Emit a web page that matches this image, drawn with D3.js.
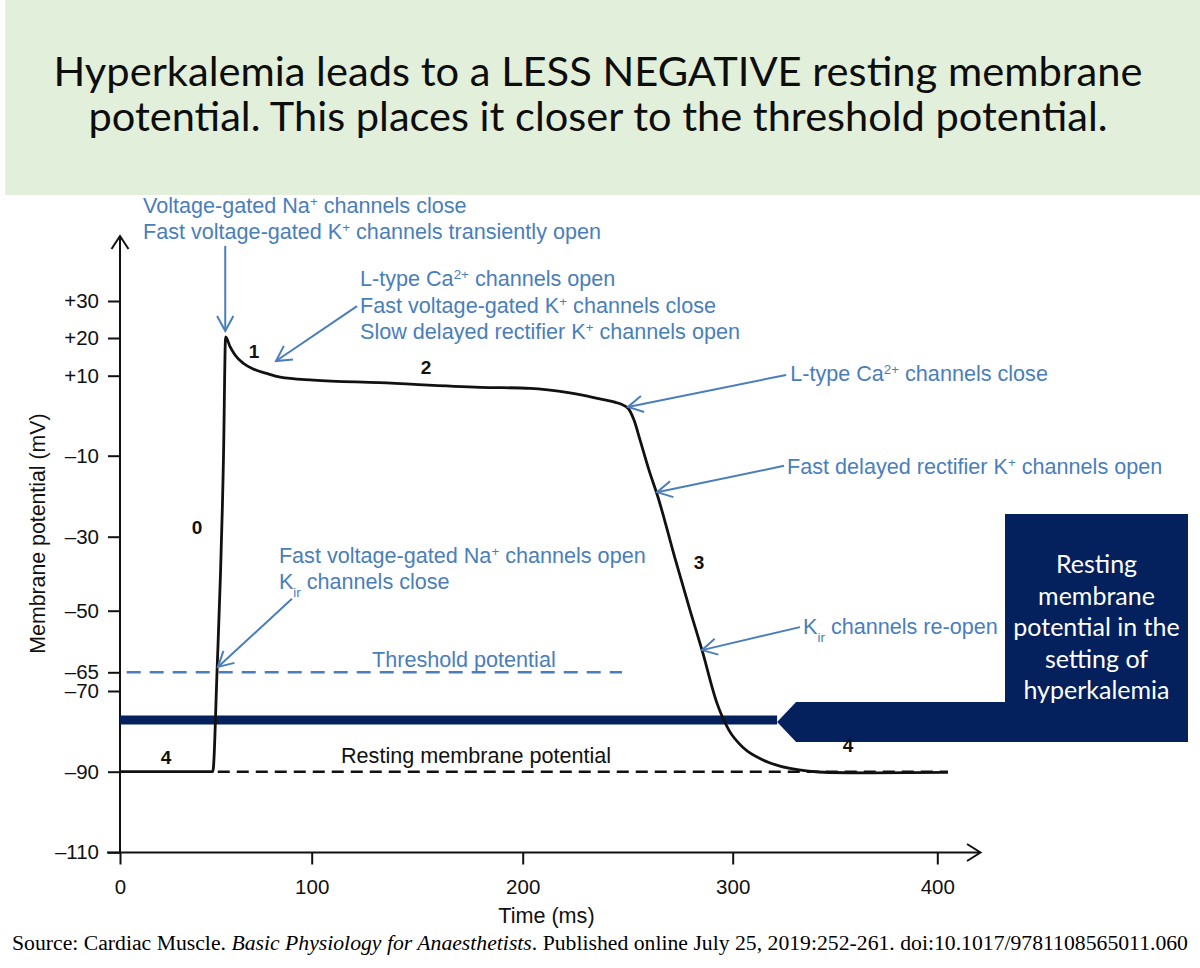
<!DOCTYPE html>
<html><head><meta charset="utf-8">
<script src="https://cdn.jsdelivr.net/npm/d3@7"></script>
<style>
html,body{margin:0;padding:0;background:#fff;}
svg{display:block;}
</style></head><body>
<svg id="c" width="1200" height="968"></svg>
<script>
// ---------------- data ----------------
const titleLines = ["Hyperkalemia leads to a LESS NEGATIVE resting membrane",
                    "potential. This places it closer to the threshold potential."];
const timeTicks = [0, 100, 200, 300, 400];
const voltageTicks = [30, 20, 10, -10, -30, -50, -65, -70, -90, -110];
const voltageTickLabels = ["+30", "+20", "+10", "\u201310", "\u201330", "\u201350", "\u201365", "\u201370", "\u201390", "\u2013110"];
const xTitle = "Time (ms)";
const yTitle = "Membrane potential (mV)";

// cardiac action potential trace
const apTime    = [0, 48.4, 50.6, 54.0, 55.1, 57.4, 60.0, 64.3, 69.5, 76.5, 83.5, 100.8, 131.9, 179.8, 203.5, 222.5, 236.8, 243.9, 250.1, 253.0, 255.9, 260.1, 264.4, 272.5, 279.9, 285.4, 292.5, 298.2, 305.5, 314.8, 328.0, 347.1, 367.1, 405.2];
const apVoltage = [-90, -90, -65, -10, 20.3, 17.7, 15.5, 13.3, 11.8, 10.6, 9.65, 8.9, 8.25, 7.1, 6.85, 5.7, 4.2, 3.4, 1.9, -1.1, -6.1, -13.5, -20.2, -35.8, -50.3, -59.6, -73.0, -79.7, -84.2, -87.1, -89.2, -90.2, -90.3, -90.15];

const thresholdPotential = -65;
const thresholdSpan = [3.5, 247.3];
const restingPotential = -90;
const restingSpan = [51, 405.2];
const hyperkalemiaPotential = -77.2;
const hyperkalemiaSpan = [0, 321.7];

const phaseLabels  = ["0", "1", "2", "3", "4", "4"];
const phaseTime    = [40.2, 69.9, 154.2, 284.0, 24.0, 356.4];
const phaseVoltage = [-27.6, 16.6, 12.3, -36.8, -86.4, -83.4];

// annotations (anchor in data units)
const annotText = [
  ["Voltage-gated Na^{+} channels close", "Fast voltage-gated K^{+} channels transiently open"],
  ["L-type Ca^{2+} channels open", "Fast voltage-gated K^{+} channels close", "Slow delayed rectifier K^{+} channels open"],
  ["L-type Ca^{2+} channels close"],
  ["Fast delayed rectifier K^{+} channels open"],
  ["K_{ir} channels re-open"],
  ["Fast voltage-gated Na^{+} channels open", "K_{ir} channels close"],
  ["Threshold potential"]
];
const annotTime    = [12.0, 122.9, 328.1, 326.6, 334.4, 82.9, 128.6];
const annotVoltage = [53.8, 34.05, 8.7, -14.5, -55.7, -37.1, -63.7];
// arrows: tail -> tip
const arrowTailTime    = [54.9, 121.5, 326.1, 325.1, 332.9, 89.7];
const arrowTailVoltage = [44.9, 28.6, 10.2, -12.5, -54.0, -46.8];
const arrowTipTime     = [54.9, 81.4, 250.1, 264.0, 285.4, 51.1];
const arrowTipVoltage  = [21.9, 13.9, 2.2, -19.0, -59.6, -63.7];

const restingLabel = "Resting membrane potential";
const restingLabelTime = 113.9, restingLabelVoltage = -87.8;

const calloutLines = ["Resting", "membrane", "potential in the", "setting of", "hyperkalemia"];

const sourceParts = [
  ["Source: Cardiac Muscle. ", false],
  ["Basic Physiology for Anaesthetists", true],
  [". Published online July 25, 2019:252-261. doi:10.1017/9781108565011.060", false]
];

// ---------------- drawing ----------------
const svg = d3.select("#c");
const BLUE = "#4a7ebb", NAVY = "#04215e", INK = "#111";
const SANS = "'Liberation Sans', Arial, Helvetica, sans-serif";
const ANN = 21.6;

// title banner
svg.append("rect").attr("x", 5).attr("y", 0).attr("width", 1195).attr("height", 195).attr("fill", "#e2efda");
const titleBase = [86, 131], titleWidth = [1089, 1019];
titleLines.forEach((t, i) => {
  const el = svg.append("text").attr("x", 598).attr("y", titleBase[i])
    .attr("text-anchor", "middle").attr("font-family", "Lato, 'Open Sans', sans-serif")
    .attr("font-size", 41).attr("fill", "#0d0d0d").text(t);
  el.attr("textLength", titleWidth[i]).attr("lengthAdjust", "spacingAndGlyphs");
});

// scales (axis in the source figure is drawn slightly unevenly)
const x = d3.scaleLinear().domain(timeTicks).range([120, 311.7, 522.7, 732.7, 937.3]);
const y = d3.scaleLinear().domain(voltageTicks).range([301, 338, 375.7, 455.7, 536.7, 610.7, 672.3, 691, 771.7, 852.3]);

const g = svg.append("g");

// axes
const yAxis = d3.axisLeft(y).tickValues(voltageTicks)
  .tickFormat((d, i) => voltageTickLabels[i]).tickSize(12).tickPadding(9);
const ya = g.append("g").attr("transform", "translate(120,0)").call(yAxis);
const xAxis = d3.axisBottom(x).tickValues(timeTicks).tickFormat(d3.format("d")).tickSize(12).tickPadding(15);
const xa = g.append("g").attr("transform", "translate(0,852.5)").call(xAxis);
[ya, xa].forEach(a => {
  a.select(".domain").remove();
  a.selectAll(".tick line").attr("stroke", INK).attr("stroke-width", 2);
  a.selectAll(".tick text").attr("font-family", SANS).attr("font-size", 20.5).attr("fill", INK);
});
// axis lines with open arrowheads
g.append("line").attr("x1", 120).attr("y1", 852.5).attr("x2", 120).attr("y2", 236).attr("stroke", INK).attr("stroke-width", 2);
g.append("polyline").attr("points", "111.5,249 120,236 128.5,249").attr("fill", "none").attr("stroke", INK).attr("stroke-width", 2);
g.append("line").attr("x1", 107).attr("y1", 852.5).attr("x2", 980).attr("y2", 852.5).attr("stroke", INK).attr("stroke-width", 2);
g.append("polyline").attr("points", "967,844 980.5,852.5 967,861").attr("fill", "none").attr("stroke", INK).attr("stroke-width", 2);

// axis titles
g.append("text").attr("x", x(211.3)).attr("y", 923).attr("text-anchor", "middle")
  .attr("font-family", SANS).attr("font-size", ANN).attr("fill", INK).text(xTitle);
g.append("text").attr("transform", "translate(45,533.5) rotate(-90)").attr("text-anchor", "middle")
  .attr("font-family", SANS).attr("font-size", 21.3).attr("fill", INK).text(yTitle);

// reference lines
g.append("line").attr("x1", x(thresholdSpan[0])).attr("x2", x(thresholdSpan[1]))
  .attr("y1", y(thresholdPotential)).attr("y2", y(thresholdPotential))
  .attr("stroke", BLUE).attr("stroke-width", 2.5).attr("stroke-dasharray", "14,9");
g.append("line").attr("x1", x(restingSpan[0])).attr("x2", x(restingSpan[1]))
  .attr("y1", y(restingPotential)).attr("y2", y(restingPotential))
  .attr("stroke", INK).attr("stroke-width", 2.5).attr("stroke-dasharray", "12,7");

// hyperkalemia resting potential line
const hy = y(hyperkalemiaPotential);
g.append("line").attr("x1", x(hyperkalemiaSpan[0])).attr("x2", x(hyperkalemiaSpan[1]))
  .attr("y1", hy).attr("y2", hy).attr("stroke", NAVY).attr("stroke-width", 9);

// action potential
const apData = apTime.map((t, i) => [t, apVoltage[i]]);
g.append("path").datum(apData)
  .attr("d", d3.line().x(d => x(d[0])).y(d => y(d[1])).curve(d3.curveMonotoneX))
  .attr("fill", "none").attr("stroke", INK).attr("stroke-width", 2.8).attr("stroke-linejoin", "round");

// callout
const tipX = x(hyperkalemiaSpan[1]);
const boxL = 1005, boxR = 1188, boxT = 514, boxB = 742;
g.append("polygon").attr("points", [
  [tipX, hy + 2], [tipX + 19, boxB - 40], [boxL + 1, boxB - 40], [boxL + 1, boxB], [tipX + 19, boxB]
].map(p => p.join(",")).join(" ")).attr("fill", NAVY);
g.append("rect").attr("x", boxL).attr("y", boxT).attr("width", boxR - boxL).attr("height", boxB - boxT).attr("fill", NAVY);
calloutLines.forEach((t, i) => {
  g.append("text").attr("x", (boxL + boxR) / 2).attr("y", 573 + i * 31.5).attr("text-anchor", "middle")
    .attr("font-family", "Lato, 'Open Sans', sans-serif").attr("font-size", 25).attr("fill", "#fff").text(t);
});

// rich text helper
function rich(sel, str) {
  str.split(/(\^\{[^}]*\}|_\{[^}]*\})/).forEach(part => {
    if (!part) return;
    if (part.startsWith("^{")) sel.append("tspan").attr("baseline-shift", "super").attr("font-size", "62%").text(part.slice(2, -1));
    else if (part.startsWith("_{")) sel.append("tspan").attr("baseline-shift", "sub").attr("font-size", "62%").text(part.slice(2, -1));
    else sel.append("tspan").text(part);
  });
}

// annotations
annotText.forEach((lines, k) => {
  lines.forEach((ln, j) => {
    const t = g.append("text").attr("x", x(annotTime[k])).attr("y", y(annotVoltage[k]) + j * 26.5)
      .attr("font-family", SANS).attr("font-size", ANN).attr("fill", BLUE);
    rich(t, ln);
  });
});
arrowTailTime.forEach((_, k) => {
  const x1 = x(arrowTailTime[k]), y1 = y(arrowTailVoltage[k]);
  const x2 = x(arrowTipTime[k]), y2 = y(arrowTipVoltage[k]);
  g.append("line").attr("x1", x1).attr("y1", y1).attr("x2", x2).attr("y2", y2)
    .attr("stroke", BLUE).attr("stroke-width", 2);
  const a = Math.atan2(y2 - y1, x2 - x1), L = 17, h = 0.5;
  const p1 = [x2 - L * Math.cos(a - h), y2 - L * Math.sin(a - h)];
  const p2 = [x2 - L * Math.cos(a + h), y2 - L * Math.sin(a + h)];
  g.append("polyline").attr("points", [p1, [x2, y2], p2].map(p => p.join(",")).join(" "))
    .attr("fill", "none").attr("stroke", BLUE).attr("stroke-width", 2).attr("stroke-linejoin", "miter");
});

// resting label
g.append("text").attr("x", x(restingLabelTime)).attr("y", y(restingLabelVoltage))
  .attr("font-family", SANS).attr("font-size", ANN).attr("fill", INK).text(restingLabel);

// phase numbers
phaseLabels.forEach((p, i) => {
  g.append("text").attr("x", x(phaseTime[i])).attr("y", y(phaseVoltage[i])).attr("dy", "0.36em")
    .attr("text-anchor", "middle").attr("font-family", SANS).attr("font-weight", "bold")
    .attr("font-size", 19).attr("fill", INK).text(p);
});

// source line
const src = svg.append("text").attr("x", 12).attr("y", 950)
  .attr("font-family", "'Liberation Serif', 'Times New Roman', serif").attr("font-size", 20).attr("fill", "#000");
sourceParts.forEach(([t, it]) => {
  const ts = src.append("tspan").text(t);
  if (it) ts.attr("font-style", "italic");
});
src.attr("textLength", 1176).attr("lengthAdjust", "spacingAndGlyphs");
</script>
</body></html>
